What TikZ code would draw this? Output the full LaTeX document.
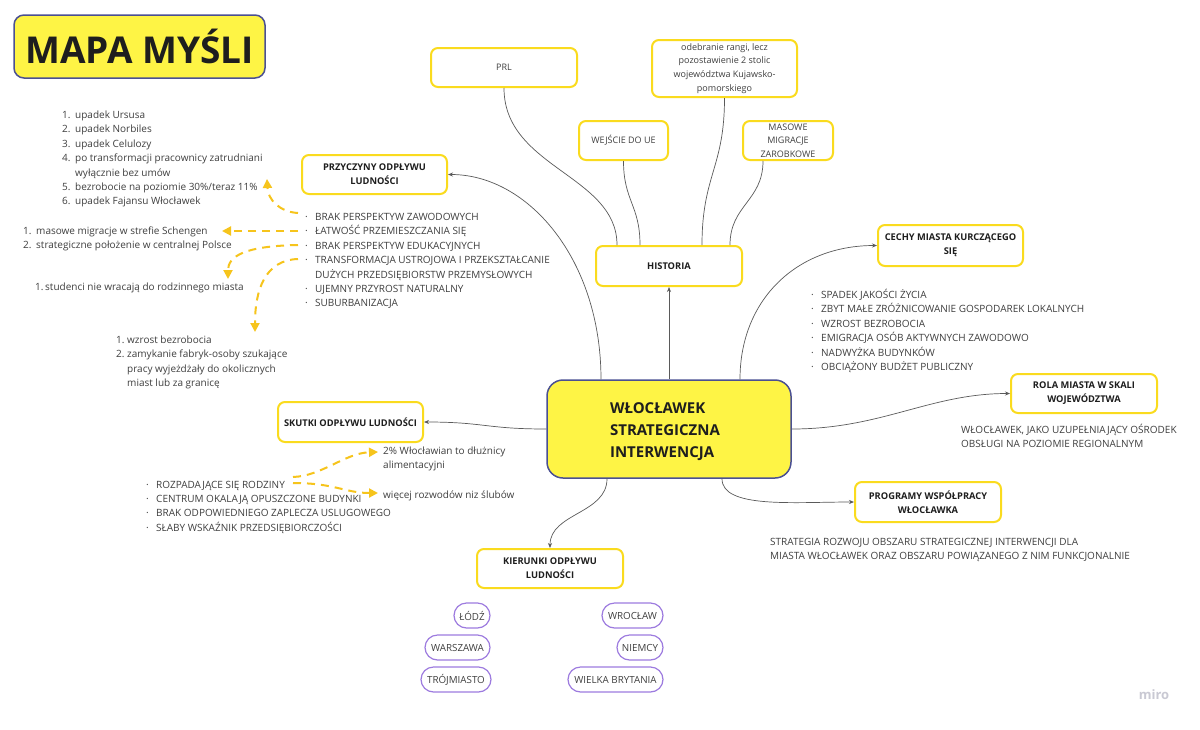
\documentclass[tikz,border=0pt]{standalone}
\usepackage{fontspec}
\setmainfont{Open Sans}
\usetikzlibrary{arrows.meta}
\definecolor{yfill}{HTML}{FEF445}
\definecolor{yborder}{HTML}{FADB1E}
\definecolor{bborder}{HTML}{4B5092}
\definecolor{purp}{HTML}{9D7BDF}
\definecolor{dasharrow}{HTML}{F6C41C}
\definecolor{conncol}{HTML}{5A5A5A}
\definecolor{txtgray}{HTML}{3F3F3F}
\definecolor{txtdark}{HTML}{1E1E1E}
\definecolor{mirogray}{HTML}{C9C9D3}
\newcommand{\numb}[1]{\makebox[13pt][l]{#1}}
\newcommand{\bul}{\makebox[10pt][l]{·}}
\begin{document}
\begin{tikzpicture}[x=1pt,y=-1pt,
 ybox/.style={draw=yborder,line width=2pt,fill=white,rounded corners=7pt,inner sep=0pt,align=center,text=txtdark,font=\bfseries\fontsize{9.3}{14}\selectfont},
 yreg/.style={ybox,text=txtgray,font=\fontsize{9}{13.7}\selectfont},
 pill/.style={draw=purp,line width=1.2pt,rounded corners=12.5pt,minimum height=25pt,inner sep=0pt,text=txtgray,font=\fontsize{9.8}{11}\selectfont},
 txt/.style={inner sep=0pt,anchor=base west,text=txtgray,font=\fontsize{10}{14}\selectfont},
 conn/.style={draw=conncol,line width=0.7pt},
 carrow/.style={conn,-{Stealth[length=5pt,width=4pt]}},
 darrow/.style={draw=dasharrow,line width=2pt,dash pattern=on 8pt off 6pt,-{Triangle[length=9pt,width=9pt]}},
]
\fill[white] (0,0) rectangle (1200,729);
\useasboundingbox (0,0) rectangle (1200,729);

% title
\node[draw=bborder,line width=1.5pt,fill=yfill,rounded corners=10pt,minimum width=251pt,minimum height=63pt,inner sep=0pt,text=txtdark,font=\bfseries\fontsize{37}{40}\selectfont] (title) at (139.5,46.5) {MAPA MYŚLI};

% center
\node[draw=bborder,line width=1.5pt,fill=yfill,rounded corners=16pt,minimum width=244pt,minimum height=98pt,inner sep=0pt] (center) at (669,429) {};
\node[inner sep=0pt,align=left,text=txtdark,font=\bfseries\fontsize{15}{22}\selectfont] (centertext) at (665,432) {WŁOCŁAWEK\\STRATEGICZNA\\INTERWENCJA};

% yellow boxes
\node[ybox,minimum width=145pt,minimum height=39pt] (przyczyny) at (374.5,174.5) {PRZYCZYNY ODPŁYWU\\LUDNOŚCI};
\node[yreg,minimum width=146pt,minimum height=39pt] (prl) at (504,67.5) {PRL};
\node[yreg,minimum width=145pt,minimum height=57pt] (odebranie) at (724.5,68.5) {odebranie rangi, lecz\\pozostawienie 2 stolic\\województwa Kujawsko-\\pomorskiego};
\node[yreg,minimum width=89pt,minimum height=39pt] (wejscie) at (623.5,140.5) {WEJŚCIE DO UE};
\node[yreg,minimum width=90pt,minimum height=39pt,font=\fontsize{9}{13.5}\selectfont] (masowe) at (788,140.5) {MASOWE\\MIGRACJE\\ZAROBKOWE};
\node[ybox,minimum width=146pt,minimum height=40pt] (historia) at (669,266) {HISTORIA};
\node[ybox,minimum width=145pt,minimum height=41pt] (cechy) at (950.5,245.5) {CECHY MIASTA KURCZĄCEGO\\SIĘ};
\node[ybox,minimum width=146pt,minimum height=39pt] (rola) at (1084,393.5) {ROLA MIASTA W SKALI\\WOJEWÓDZTWA};
\node[ybox,minimum width=145pt,minimum height=40pt] (skutki) at (350.5,422) {SKUTKI ODPŁYWU LUDNOŚCI};
\node[ybox,minimum width=146pt,minimum height=40pt] (programy) at (928,502) {PROGRAMY WSPÓŁPRACY\\WŁOCŁAWKA};
\node[ybox,minimum width=146pt,minimum height=39pt] (kierunki) at (550,568.5) {KIERUNKI ODPŁYWU\\LUDNOŚCI};

% pills
\node[pill,minimum width=36pt] (lodz) at (472,615.5) {ŁÓDŹ};
\node[pill,minimum width=65pt] (warszawa) at (457.5,647.5) {WARSZAWA};
\node[pill,minimum width=70pt] (trojmiasto) at (456,679.5) {TRÓJMIASTO};
\node[pill,minimum width=61pt] (wroclaw) at (632.5,615.5) {WROCŁAW};
\node[pill,minimum width=46pt] (niemcy) at (640,647.5) {NIEMCY};
\node[pill,minimum width=95pt] (wielka) at (615.5,679.5) {WIELKA BRYTANIA};

% connectors from center
\draw[carrow] (center.north) -- (historia.south);
\draw[carrow] ([xshift=-68pt]center.north) .. controls +(0,-120) and +(80,0) .. (przyczyny.east);
\draw[carrow] ([xshift=71pt]center.north) .. controls +(0,-80) and +(-80,0) .. (cechy.west);
\draw[carrow] (center.east) .. controls +(90,0) and +(-80,0) .. (rola.west);
\draw[carrow] (center.west) .. controls +(-60,0) and +(60,0) .. (skutki.east);
\draw[carrow] ([xshift=53pt]center.south) .. controls +(0,30) and +(-60,0) .. (programy.west);
\draw[carrow] ([xshift=-62pt]center.south) .. controls +(0,35) and +(0,-35) .. (kierunki.north);

% history connectors
\draw[conn] (prl.south) .. controls +(0,80) and +(0,-70) .. ([xshift=-52pt]historia.north);
\draw[conn] (wejscie.south) .. controls +(0,40) and +(0,-40) .. ([xshift=-29pt]historia.north);
\draw[conn] (odebranie.south) .. controls +(0,70) and +(0,-70) .. ([xshift=33pt]historia.north);
\draw[conn] ([xshift=-25pt]masowe.south) .. controls +(0,40) and +(0,-40) .. ([xshift=61pt]historia.north);

% list A
\node[txt] (a1) at (62,118.5) {\numb{1.}upadek Ursusa};
\node[txt] (a2) at (62,132.9) {\numb{2.}upadek Norbiles};
\node[txt] (a3) at (62,147.3) {\numb{3.}upadek Celulozy};
\node[txt] (a4) at (62,161.7) {\numb{4.}po transformacji pracownicy zatrudniani};
\node[txt] (a4b) at (62,176.1) {\numb{}wyłącznie bez umów};
\node[txt] (a5) at (62,190.5) {\numb{5.}bezrobocie na poziomie 30\%/teraz 11\%};
\node[txt] (a6) at (62,204.9) {\numb{6.}upadek Fajansu Włocławek};
% list B
\node[txt] (b1) at (23,234.3) {\numb{1.}masowe migracje w strefie Schengen};
\node[txt] (b2) at (23,248.7) {\numb{2.}strategiczne położenie w centralnej Polsce};
% list C
\node[txt] (c1) at (35,290.5) {\makebox[10pt][l]{1.}studenci nie wracają do rodzinnego miasta};
% list D
\node[txt] (d1) at (116,343.5) {\makebox[11pt][l]{1.}wzrost bezrobocia};
\node[txt] (d2) at (116,357.9) {\makebox[11pt][l]{2.}zamykanie fabryk-osoby szukające};
\node[txt] (d2b) at (116,372.3) {\makebox[11pt][l]{}pracy wyjeżdżały do okolicznych};
\node[txt] (d2c) at (116,386.7) {\makebox[11pt][l]{}miast lub za granicę};
% list P
\node[txt] (p1) at (305,220.5) {\bul BRAK PERSPEKTYW ZAWODOWYCH};
\node[txt] (p2) at (305,234.9) {\bul ŁATWOŚĆ PRZEMIESZCZANIA SIĘ};
\node[txt] (p3) at (305,249.3) {\bul BRAK PERSPEKTYW EDUKACYJNYCH};
\node[txt] (p4) at (305,263.7) {\bul TRANSFORMACJA USTROJOWA I PRZEKSZTAŁCANIE};
\node[txt] (p4b) at (305,278.1) {\makebox[10pt][l]{}DUŻYCH PRZEDSIĘBIORSTW PRZEMYSŁOWYCH};
\node[txt] (p5) at (305,292.5) {\bul UJEMNY PRZYROST NATURALNY};
\node[txt] (p6) at (305,306.9) {\bul SUBURBANIZACJA};
% list Q
\node[txt] (q1) at (811,298.5) {\bul SPADEK JAKOŚCI ŻYCIA};
\node[txt] (q2) at (811,312.9) {\bul ZBYT MAŁE ZRÓŻNICOWANIE GOSPODAREK LOKALNYCH};
\node[txt] (q3) at (811,327.3) {\bul WZROST BEZROBOCIA};
\node[txt] (q4) at (811,341.7) {\bul EMIGRACJA OSÓB AKTYWNYCH ZAWODOWO};
\node[txt] (q5) at (811,356.1) {\bul NADWYŻKA BUDYNKÓW};
\node[txt] (q6) at (811,370.5) {\bul OBCIĄŻONY BUDŻET PUBLICZNY};
% rola text
\node[txt] (w1) at (961,433.5) {WŁOCŁAWEK, JAKO UZUPEŁNIAJĄCY OŚRODEK};
\node[txt] (w2) at (961,447.5) {OBSŁUGI NA POZIOMIE REGIONALNYM};
% skutki texts
\node[txt] (s1) at (383,454.5) {2\% Włocławian to dłużnicy};
\node[txt] (s1b) at (383,468.5) {alimentacyjni};
\node[txt] (s2) at (383,498) {więcej rozwodów niz ślubów};
\node[txt] (r1) at (146,488.5) {\bul ROZPADAJĄCE SIĘ RODZINY};
\node[txt] (r2) at (146,502.5) {\bul CENTRUM OKALAJĄ OPUSZCZONE BUDYNKI};
\node[txt] (r3) at (146,516.9) {\bul BRAK ODPOWIEDNIEGO ZAPLECZA USLUGOWEGO};
\node[txt] (r4) at (146,531.3) {\bul SŁABY WSKAŹNIK PRZEDSIĘBIORCZOŚCI};
% strategia
\node[txt] (st1) at (770,545.5) {STRATEGIA ROZWOJU OBSZARU STRATEGICZNEJ INTERWENCJI DLA};
\node[txt] (st2) at (770,559.5) {MIASTA WŁOCŁAWEK ORAZ OBSZARU POWIĄZANEGO Z NIM FUNKCJONALNIE};

% dashed arrows
\coordinate (da1) at (298,213);
\coordinate (ta1) at (267,179);
\coordinate (da2) at (298,231);
\coordinate (ta2) at (222,231);
\coordinate (da3) at (298,245);
\coordinate (ta3) at (228,279);
\coordinate (da4) at (298,259);
\coordinate (ta4) at (255,332);
\coordinate (da5) at (293,477);
\coordinate (ta5) at (378,452);
\coordinate (da6) at (293,483);
\coordinate (ta6) at (378,493);
\draw[darrow] (da1) .. controls (280,212) and (268,200) .. (ta1);
\draw[darrow] (da2) -- (ta2);
\draw[darrow] (da3) .. controls (245,246) and (228,256) .. (ta3);
\draw[darrow] (da4) .. controls (265,260) and (255,290) .. (ta4);
\draw[darrow] (da5) .. controls (322,476) and (345,453) .. (ta5);
\draw[darrow] (da6) .. controls (335,483) and (345,493) .. (ta6);

% logo
\node[inner sep=0pt,text=mirogray,font=\bfseries\fontsize{13}{13}\selectfont] (miro) at (1154,695) {miro};
\end{tikzpicture}
\end{document}
